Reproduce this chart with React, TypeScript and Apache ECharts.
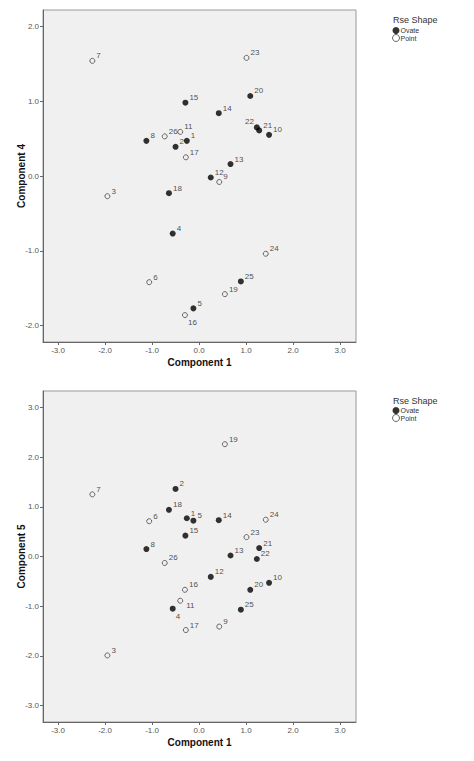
import React, { useEffect, useRef } from 'react';
import * as echarts from 'echarts';

// case ids and leaf shape group
const ids = ['1', '2', '3', '4', '5', '6', '7', '8', '9', '10', '11', '12', '13',
  '14', '15', '16', '17', '18', '19', '20', '21', '22', '23', '24', '25', '26'];
const shapes = ['Ovate', 'Ovate', 'Point', 'Ovate', 'Ovate', 'Point', 'Point', 'Ovate', 'Point',
  'Ovate', 'Point', 'Ovate', 'Ovate', 'Ovate', 'Ovate', 'Point', 'Point', 'Ovate', 'Point',
  'Ovate', 'Ovate', 'Ovate', 'Point', 'Point', 'Ovate', 'Point'];

// component scores
const comp1 = [-0.26, -0.50, -1.95, -0.56, -0.12, -1.06, -2.27, -1.12, 0.43, 1.49, -0.40, 0.25, 0.67,
  0.42, -0.29, -0.30, -0.28, -0.64, 0.55, 1.09, 1.28, 1.23, 1.01, 1.42, 0.89, -0.73];
const comp4 = [0.47, 0.39, -0.27, -0.77, -1.77, -1.42, 1.54, 0.47, -0.08, 0.55, 0.59, -0.02, 0.16,
  0.84, 0.98, -1.86, 0.25, -0.23, -1.58, 1.07, 0.61, 0.65, 1.58, -1.04, -1.41, 0.53];
const comp5 = [0.77, 1.36, -1.99, -1.05, 0.72, 0.71, 1.25, 0.15, -1.41, -0.53, -0.89, -0.41, 0.02,
  0.73, 0.42, -0.67, -1.48, 0.94, 2.26, -0.67, 0.17, -0.05, 0.39, 0.74, -1.07, -0.13];

const xTicks = [-3, -2, -1, 0, 1, 2, 3];
const yTicksTop = [-2, -1, 0, 1, 2];
const yTicksBottom = [-3, -2, -1, 0, 1, 2, 3];
const groups = ['Ovate', 'Point'];

const FONT = '"Liberation Sans", Arial, sans-serif';

// label tweaks for points whose number sits somewhere other than upper right
const labelTweaksTop: Record<string, any> = {
  '16': { offset: [-1, 7] },
  '22': { position: 'left', offset: [1, -6] },
};
const labelTweaksBottom: Record<string, any> = {
  '11': { offset: [2, 5] },
  '4': { offset: [-1, 8] },
};

const App: React.FC = () => {
  const chartRef = useRef<HTMLDivElement>(null);

  useEffect(() => {
    if (!chartRef.current) return;
    const chart = echarts.init(chartRef.current, undefined, { renderer: 'svg' });

    const makeSeries = (ys: number[], idx: number, tweaks: Record<string, any>) =>
      groups.map((g) => ({
        name: g,
        type: 'scatter',
        xAxisIndex: idx,
        yAxisIndex: idx,
        symbol: 'circle',
        symbolSize: g === 'Ovate' ? 6 : 5,
        itemStyle: g === 'Ovate'
          ? { color: '#000' }
          : { color: 'rgba(0,0,0,0)', borderColor: '#444', borderWidth: 1 },
        label: {
          show: true,
          formatter: '{b}',
          position: 'right',
          distance: 1,
          offset: [0, -5],
          fontSize: 8,
          color: '#222',
          textBorderWidth: 0,
          fontFamily: FONT,
        },
        data: ids
          .map((id, i) => ({ id, i }))
          .filter(({ i }) => shapes[i] === g)
          .map(({ id, i }) => ({
            name: id,
            value: [comp1[i], ys[i]],
            ...(tweaks[id] ? { label: tweaks[id] } : {}),
          })),
      }));

    const tickLabel = {
      fontSize: 8,
      color: '#555',
      fontFamily: FONT,
      formatter: (v: number) => v.toFixed(1),
    };

    const xAxisFor = (idx: number) => ({
      type: 'value',
      gridIndex: idx,
      min: -3.32,
      max: 3.34,
      name: 'Component 1',
      nameLocation: 'middle',
      nameGap: 15,
      nameMoveOverlap: false,
      nameTextStyle: { fontSize: 10, fontWeight: 'bold', color: '#111', fontFamily: FONT },
      axisLine: { show: true, onZero: false, lineStyle: { color: '#666' } },
      axisTick: { show: true, length: 3, customValues: xTicks, lineStyle: { color: '#666' } },
      axisLabel: { ...tickLabel, margin: 4, customValues: xTicks },
      splitLine: { show: false },
    });

    const yAxisFor = (idx: number, name: string, lim: number, ticks: number[]) => ({
      type: 'value',
      gridIndex: idx,
      min: -lim,
      max: lim,
      name,
      nameLocation: 'middle',
      nameGap: 17,
      nameMoveOverlap: false,
      nameTextStyle: { fontSize: 10, fontWeight: 'bold', color: '#111', fontFamily: FONT },
      axisLine: { show: true, onZero: false, lineStyle: { color: '#666' } },
      axisTick: { show: true, length: 3, customValues: ticks, lineStyle: { color: '#666' } },
      axisLabel: { ...tickLabel, margin: 4, customValues: ticks },
      splitLine: { show: false },
    });

    const legendFor = (top: number) => ({
      orient: 'vertical',
      left: 392,
      top,
      itemGap: 0,
      itemWidth: 7,
      itemHeight: 7,
      icon: 'circle',
      selectedMode: false,
      itemStyle: { borderWidth: 1 },
      textStyle: { fontSize: 7, color: '#333', fontFamily: FONT, padding: [0, 0, 0, -4] },
      padding: 0,
      data: groups,
    });

    const gridBase = {
      left: 43,
      width: 313,
      show: true,
      backgroundColor: '#f0f0f0',
      borderColor: '#999',
      borderWidth: 1,
      containLabel: false,
      outerBoundsMode: 'none',
    };

    chart.setOption({
      animation: false,
      grid: [
        { ...gridBase, top: 10, height: 332 },
        { ...gridBase, top: 391, height: 331 },
      ],
      xAxis: [xAxisFor(0), xAxisFor(1)],
      yAxis: [
        yAxisFor(0, 'Component 4', 2.22, yTicksTop),
        yAxisFor(1, 'Component 5', 3.33, yTicksBottom),
      ],
      legend: [legendFor(27), legendFor(407)],
      graphic: [
        { type: 'text', left: 393, top: 15, style: { text: 'Rse Shape', fontSize: 9, fill: '#333', fontFamily: FONT } },
        { type: 'text', left: 393, top: 396, style: { text: 'Rse Shape', fontSize: 9, fill: '#333', fontFamily: FONT } },
      ],
      series: [...makeSeries(comp4, 0, labelTweaksTop), ...makeSeries(comp5, 1, labelTweaksBottom)],
    });

    return () => {
      chart.dispose();
    };
  }, []);

  return (
    <div
      ref={chartRef}
      style={{ position: 'absolute', left: 0, top: 0, width: '474px', height: '761px', background: '#fff' }}
    />
  );
};

export default App;
